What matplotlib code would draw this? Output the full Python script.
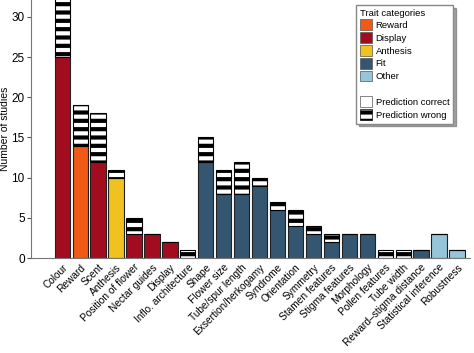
import matplotlib
matplotlib.use("Agg")
import matplotlib.pyplot as plt
from matplotlib.patches import Patch
import numpy as np

plt.rcParams['font.family'] = ['Liberation Sans', 'DejaVu Sans']
plt.rcParams['hatch.linewidth'] = 3.0

traits = ["Colour", "Reward", "Scent", "Anthesis", "Position of flower", "Nectar guides",
          "Display", "Inflo. architecture", "Shape", "Flower size", "Tube/spur length",
          "Exsertion/herkogamy", "Syndrome", "Orientation", "Symmetry", "Stamen features",
          "Stigma features", "Morphology", "Pollen features", "Tube width",
          "Reward\u2013stigma distance", "Statistical inference", "Robustness"]
categories = ["Display", "Reward", "Display", "Anthesis", "Display", "Display",
              "Display", "Display", "Fit", "Fit", "Fit",
              "Fit", "Fit", "Fit", "Fit", "Fit",
              "Fit", "Fit", "Fit", "Fit",
              "Fit", "Other", "Other"]
correct = [25, 14, 12, 10, 3, 3, 2, 0, 12, 8, 8, 9, 6, 4, 3, 2, 3, 3, 0, 0, 1, 3, 1]
wrong = [9, 5, 6, 1, 2, 0, 0, 1, 3, 3, 4, 1, 1, 2, 1, 1, 0, 0, 1, 1, 0, 0, 0]

cat_colors = {"Reward": "#F05A16", "Display": "#A10D1F", "Anthesis": "#EFC21F",
              "Fit": "#345670", "Other": "#95C5DB"}

fig = plt.figure(figsize=(4.74, 3.53), dpi=100)
ax = fig.add_axes([0.0654, 0.269, 0.926, 0.731])

x = np.arange(len(traits))
colors = [cat_colors[c] for c in categories]
ax.bar(x, correct, width=0.85, color=colors, edgecolor="#222222", linewidth=0.8)
ax.bar(x, wrong, bottom=correct, width=0.85, color="white", edgecolor="black",
       linewidth=0.8, hatch="--")

ax.set_xlim(-1.74, len(traits) - 1 + 0.72)
ax.set_ylim(0, 32.1)
ax.set_yticks([0, 5, 10, 15, 20, 25, 30])
ax.set_xticks(x)
ax.set_xticklabels(traits, rotation=45, ha="right", rotation_mode="anchor", fontsize=7.3)
ax.tick_params(axis="x", length=0, pad=3)
ax.tick_params(axis="y", length=3, labelsize=8.5, color="#555555", direction="out", pad=1.5)
ax.set_ylabel("Number of studies", fontsize=7.5, labelpad=1)
for s in ["top", "right"]:
    ax.spines[s].set_visible(False)
for s in ["left", "bottom"]:
    ax.spines[s].set_color("#777777")
    ax.spines[s].set_linewidth(0.8)

handles = [Patch(facecolor=cat_colors[k], edgecolor="#555555", linewidth=0.5, label=k)
           for k in ["Reward", "Display", "Anthesis", "Fit", "Other"]]
handles.append(Patch(facecolor="none", edgecolor="none", label=" "))
handles.append(Patch(facecolor="white", edgecolor="#555555", linewidth=0.5, label="Prediction correct"))
handles.append(Patch(facecolor="white", edgecolor="black", linewidth=0.5, hatch="--", label="Prediction wrong"))
leg = fig.legend(handles=handles, title="Trait categories", loc="upper right",
                 bbox_to_anchor=(0.966, 1.0), fontsize=6.8, title_fontsize=6.8,
                 frameon=True, shadow=True, fancybox=False, borderpad=0.4,
                 handlelength=1.3, handleheight=1.4, handletextpad=0.4, labelspacing=0.2,
                 edgecolor="#888888")
leg._legend_box.align = "left"

fig.savefig("out.png", dpi=100)
